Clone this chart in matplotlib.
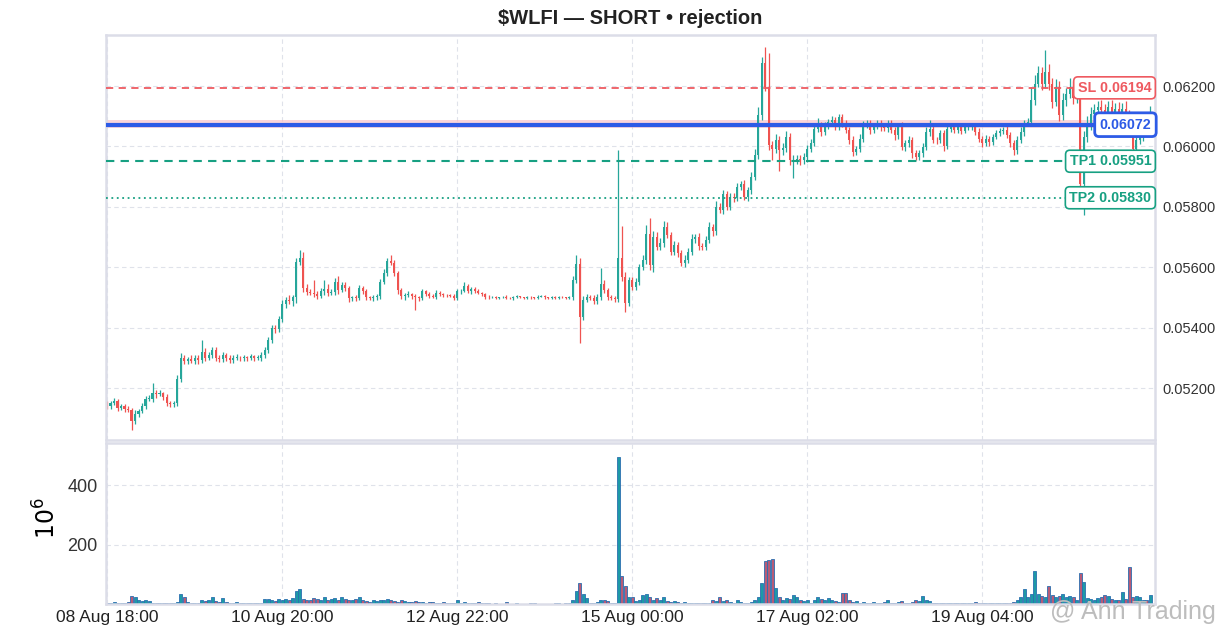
import numpy as np
import matplotlib.pyplot as plt

plt.rcParams['font.family'] = ['Liberation Sans', 'DejaVu Sans']

# hourly candles, prices in 1e-5 USD (open = previous close)
first_open = 5148
close = [
    5140, 5150, 5158, 5135, 5140, 5130, 5128, 5090, 5115, 5125,
    5140, 5165, 5165, 5185, 5180, 5182, 5170, 5150, 5148, 5150,
    5230, 5300, 5290, 5296, 5290, 5300, 5292, 5320, 5300, 5310,
    5325, 5300, 5295, 5310, 5300, 5292, 5300, 5300, 5298, 5302,
    5300, 5305, 5300, 5300, 5310, 5325, 5358, 5400, 5395, 5430,
    5478, 5492, 5488, 5500, 5618, 5632, 5530, 5518, 5515, 5512,
    5505, 5520, 5528, 5515, 5518, 5552, 5525, 5540, 5530, 5497,
    5500, 5498, 5530, 5522, 5500, 5498, 5500, 5505, 5552, 5582,
    5620, 5615, 5580, 5525, 5505, 5508, 5510, 5505, 5500, 5497,
    5520, 5512, 5505, 5503, 5515, 5510, 5508, 5507, 5505, 5498,
    5520, 5522, 5538, 5520, 5528, 5522, 5515, 5510, 5503, 5500,
    5502, 5498, 5500, 5503, 5499, 5497, 5501, 5504, 5500, 5498,
    5502, 5500, 5497, 5503, 5505, 5500, 5498, 5501, 5499, 5502,
    5500, 5498, 5500, 5557, 5612, 5436, 5493, 5502, 5497, 5487,
    5502, 5546, 5524, 5502, 5498, 5496, 5629, 5568, 5480, 5557,
    5535, 5552, 5602, 5624, 5709, 5607, 5701, 5668, 5679, 5734,
    5706, 5651, 5673, 5646, 5613, 5624, 5651, 5695, 5700, 5670,
    5668, 5690, 5734, 5720, 5800, 5790, 5842, 5800, 5833, 5830,
    5866, 5876, 5833, 5855, 5899, 5971, 6104, 6275, 6197, 6004,
    5990, 6021, 5988, 5995, 6032, 5955, 5955, 5960, 5955, 5965,
    5993, 6010, 6059, 6070, 6048, 6070, 6081, 6087, 6065, 6096,
    6076, 6054, 6021, 5982, 5990, 6026, 6071, 6076, 6054, 6067,
    6076, 6063, 6060, 6076, 6054, 6037, 6065, 5999, 6010, 6022,
    5977, 5966, 5977, 5999, 6048, 6059, 6021, 6020, 6043, 6001,
    6059, 6063, 6054, 6063, 6052, 6063, 6067, 6067, 6048, 6026,
    6010, 6026, 6015, 6032, 6043, 6052, 6054, 6037, 6010, 5988,
    6021, 6048, 6076, 6080, 6153, 6208, 6242, 6208, 6247, 6208,
    6148, 6197, 6104, 6153, 6175, 6197, 6160, 6165, 5877, 6030,
    6076, 6109, 6120, 6130, 6120, 6110, 6130, 6110, 6125, 6110,
    6125, 6105, 6087, 5993, 6020, 6032, 6080, 6070, 6115,
]
upper_wick = [
    8, 6, 10, 5, 8, 6, 9, 7, 12, 6,
    10, 8, 12, 30, 8, 10, 6, 9, 7, 8,
    12, 15, 10, 8, 12, 9, 10, 40, 12, 8,
    12, 10, 8, 10, 6, 9, 8, 12, 6, 8,
    5, 8, 6, 10, 8, 10, 12, 10, 8, 10,
    12, 10, 15, 8, 12, 25, 20, 15, 10, 42,
    10, 12, 29, 15, 10, 12, 20, 10, 12, 8,
    6, 8, 10, 8, 5, 6, 8, 6, 10, 12,
    10, 20, 10, 8, 6, 8, 10, 6, 5, 6,
    8, 6, 5, 6, 8, 5, 4, 5, 4, 6,
    8, 6, 14, 8, 6, 5, 6, 4, 5, 4,
    3, 4, 3, 2, 4, 3, 3, 4, 2, 3,
    4, 3, 3, 5, 3, 2, 3, 4, 3, 3,
    3, 2, 4, 15, 28, 20, 12, 8, 6, 10,
    8, 50, 12, 8, 6, 6, 359, 107, 15, 12,
    10, 12, 10, 15, 31, 53, 20, 15, 18, 20,
    15, 12, 14, 12, 10, 15, 12, 15, 10, 12,
    10, 12, 15, 10, 18, 12, 15, 10, 12, 14,
    12, 10, 14, 12, 15, 20, 25, 20, 55, 111,
    15, 20, 12, 15, 20, 12, 15, 10, 12, 14,
    12, 15, 12, 23, 10, 12, 10, 15, 12, 12,
    10, 12, 10, 12, 10, 15, 12, 10, 12, 10,
    12, 10, 8, 10, 12, 10, 12, 15, 10, 12,
    10, 12, 10, 12, 15, 28, 12, 10, 12, 10,
    12, 10, 8, 10, 12, 8, 10, 8, 10, 12,
    10, 12, 10, 8, 10, 8, 10, 12, 10, 12,
    12, 15, 12, 15, 44, 30, 25, 20, 72, 25,
    20, 25, 20, 25, 20, 30, 20, 25, 15, 20,
    25, 20, 22, 20, 25, 22, 20, 25, 20, 22,
    20, 25, 15, 12, 15, 18, 20, 15, 18,
]
lower_wick = [
    10, 8, 6, 12, 8, 10, 8, 30, 10, 12,
    8, 10, 8, 10, 12, 8, 10, 8, 12, 10,
    8, 10, 12, 10, 8, 10, 12, 8, 10, 8,
    10, 12, 8, 10, 12, 8, 10, 8, 10, 8,
    10, 8, 10, 8, 12, 10, 8, 10, 12, 8,
    10, 12, 10, 15, 20, 10, 12, 10, 8, 12,
    10, 8, 12, 10, 8, 10, 12, 8, 10, 12,
    8, 10, 8, 12, 10, 8, 10, 8, 10, 8,
    10, 8, 10, 12, 10, 12, 8, 10, 42, 8,
    6, 8, 6, 5, 8, 6, 5, 6, 5, 8,
    6, 8, 5, 6, 8, 6, 5, 6, 8, 5,
    3, 4, 2, 3, 4, 3, 5, 3, 2, 4,
    3, 4, 3, 2, 3, 4, 3, 2, 4, 3,
    3, 4, 3, 8, 10, 88, 10, 8, 6, 10,
    8, 10, 8, 10, 8, 10, 12, 15, 28, 10,
    12, 10, 12, 10, 12, 15, 22, 12, 10, 12,
    10, 12, 10, 12, 10, 12, 10, 12, 15, 12,
    10, 12, 10, 15, 12, 10, 15, 12, 10, 15,
    12, 10, 12, 15, 12, 10, 12, 15, 12, 15,
    35, 12, 68, 15, 12, 15, 61, 12, 15, 12,
    15, 12, 10, 12, 15, 10, 12, 10, 12, 10,
    12, 10, 12, 15, 12, 10, 12, 10, 12, 10,
    10, 12, 10, 12, 10, 15, 12, 10, 15, 12,
    15, 12, 10, 12, 10, 12, 10, 12, 10, 15,
    10, 12, 10, 8, 10, 8, 10, 12, 10, 12,
    12, 10, 12, 10, 8, 10, 12, 10, 12, 15,
    12, 10, 12, 10, 12, 15, 12, 20, 15, 20,
    20, 15, 20, 15, 20, 15, 20, 15, 10, 105,
    15, 20, 15, 20, 15, 20, 15, 20, 15, 20,
    15, 20, 15, 10, 15, 12, 15, 20, 15,
]
# volume in millions
volume = [
    5, 4, 6, 3, 5, 4, 8, 26, 22, 12,
    10, 12, 10, 4, 3, 5, 3, 4, 2, 3,
    8, 35, 25, 8, 4, 5, 3, 15, 10, 12,
    22, 10, 8, 20, 6, 5, 4, 6, 3, 2,
    3, 2, 4, 5, 5, 18, 18, 15, 10, 18,
    14, 16, 12, 20, 45, 52, 18, 15, 12, 20,
    16, 14, 22, 12, 18, 20, 15, 22, 18, 14,
    12, 18, 22, 15, 10, 8, 12, 10, 14, 15,
    18, 12, 10, 8, 12, 10, 8, 6, 10, 8,
    6, 5, 8, 6, 4, 5, 6, 3, 4, 5,
    12, 4, 8, 3, 2, 4, 6, 3, 2, 3,
    1, 2, 0.5, 1, 8, 1, 0.5, 2, 1, 0.5,
    1, 2, 3, 1, 0.5, 1, 0.5, 1, 2, 3,
    1, 2, 2, 15, 45, 72, 35, 20, 5, 3,
    8, 12, 15, 10, 4, 3, 495, 95, 62, 22,
    25, 10, 12, 30, 35, 22, 15, 20, 12, 25,
    10, 8, 10, 6, 5, 8, 3, 4, 3, 3,
    2, 3, 4, 15, 10, 25, 10, 15, 8, 5,
    12, 8, 4, 3, 6, 15, 25, 70, 145, 148,
    152, 55, 25, 15, 20, 18, 30, 22, 15, 10,
    12, 5, 15, 22, 18, 12, 20, 15, 10, 8,
    38, 38, 15, 8, 10, 5, 8, 3, 3, 8,
    5, 3, 8, 12, 5, 5, 8, 10, 5, 3,
    8, 15, 10, 28, 12, 10, 5, 5, 3, 2,
    3, 2, 5, 3, 2, 3, 5, 3, 8, 3,
    2, 3, 5, 4, 3, 2, 3, 4, 3, 8,
    15, 25, 50, 25, 35, 110, 35, 28, 25, 60,
    30, 22, 28, 35, 22, 28, 25, 15, 105, 75,
    20, 18, 15, 20, 22, 30, 28, 18, 15, 15,
    40, 18, 125, 25, 28, 25, 15, 12, 30,
]
tick_pos = [0, 50, 100, 150, 200, 250]
tick_labels = ['08 Aug 18:00', '10 Aug 20:00', '12 Aug 22:00',
               '15 Aug 00:00', '17 Aug 02:00', '19 Aug 04:00']

sl, entry, tp1, tp2 = 0.06194, 0.06072, 0.05951, 0.05830

UP = '#26a69a'
DOWN = '#ef5350'
VUP = '#1d9aa6'
VDOWN = '#b65b78'
RED_LINE = '#ee5a60'
BLUE = '#2d5be6'
GREEN = '#17a082'
GRID = '#dfe2ea'
SPINE = '#dcdde8'

c = np.array(close) / 1e5
o = np.concatenate([[first_open / 1e5], c[:-1]])
hi = np.maximum(o, c) + np.array(upper_wick) / 1e5
lo = np.minimum(o, c) - np.array(lower_wick) / 1e5
vol = np.array(volume, dtype=float)
x = np.arange(len(c))
rising = c >= o
cols = np.where(rising, UP, DOWN)
vcols = np.where(rising, VUP, VDOWN)

fig = plt.figure(figsize=(12.23, 6.38), dpi=100)
ax = fig.add_axes([0.0867, 0.3103, 0.8577, 0.6348])
axv = fig.add_axes([0.0867, 0.0533, 0.8577, 0.2524], sharex=ax)

# candles
ax.vlines(x, lo, hi, colors=cols, lw=0.9, zorder=2)
ax.bar(x, np.maximum(np.abs(c - o), 0.000015), bottom=np.minimum(o, c),
       width=0.62, color=cols, lw=0, zorder=2)

# trade levels
ax.axhspan(0.06060, 0.06086, color='#f7b3ba', alpha=0.55, lw=0, zorder=1)
ax.axhline(sl, color=RED_LINE, ls=(0, (4, 3)), lw=1.3, zorder=3)
ax.axhline(entry, color=BLUE, lw=3, zorder=3)
ax.axhline(tp1, color=GREEN, ls=(0, (4, 3)), lw=1.5, zorder=3)
ax.axhline(tp2, color=GREEN, ls=(0, (1, 2)), lw=1.3, zorder=3)

tr = ax.get_yaxis_transform()
def level_tag(y, txt, col, lw=1.2, pad=0.28):
    ax.text(0.9965, y, txt, transform=tr, ha='right', va='center', color=col,
            fontsize=10.3, fontweight='bold', zorder=6,
            bbox=dict(boxstyle='round,pad=%s,rounding_size=0.3' % pad,
                      fc='white', ec=col, lw=lw))

level_tag(sl, 'SL 0.06194', RED_LINE)
level_tag(entry, '0.06072', BLUE, lw=2, pad=0.34)
level_tag(tp1, 'TP1 0.05951', GREEN)
level_tag(tp2, 'TP2 0.05830', GREEN)

ax.set_ylim(0.050278, 0.063689)
ax.set_yticks([0.052, 0.054, 0.056, 0.058, 0.060, 0.062])
ax.set_yticklabels(['%.5f' % v for v in ax.get_yticks()])
ax.yaxis.tick_right()
ax.tick_params(axis='y', labelsize=10.5, length=0, pad=5, labelcolor='#333333')
ax.tick_params(axis='x', labelbottom=False, length=0)
ax.grid(True, ls=(0, (4, 3)), color=GRID, lw=0.8, zorder=0)
ax.set_axisbelow(True)
ax.set_title(r'\$WLFI — SHORT • rejection', fontsize=14.5, fontweight='bold',
             pad=8, color='#222222')

# volume
axv.bar(x, vol, width=0.85, color=vcols, edgecolor='#2a6fb0', lw=0.6, zorder=2)
axv.set_ylim(0, 543)
axv.set_yticks([200, 400])
axv.tick_params(axis='y', labelsize=13, length=0, pad=6, labelcolor='#333333')
axv.set_xticks(tick_pos)
axv.set_xticklabels(tick_labels)
axv.tick_params(axis='x', labelsize=12.5, length=0, pad=4, labelcolor='#222222')
axv.set_ylabel(r'$10^6$', fontsize=17)
axv.yaxis.set_label_coords(-0.043, 0.53)
axv.grid(True, ls=(0, (4, 3)), color=GRID, lw=0.8, zorder=0)
axv.set_axisbelow(True)
axv.set_xlim(-0.3, 299.4)

for a in (ax, axv):
    for s in a.spines.values():
        s.set_color(SPINE)
        s.set_linewidth(1.8)

fig.text(0.994, 0.022, '@ Ann Trading', ha='right', va='bottom', fontsize=18,
         color='#bdbdbd')

fig.savefig('out.png', dpi=100)
